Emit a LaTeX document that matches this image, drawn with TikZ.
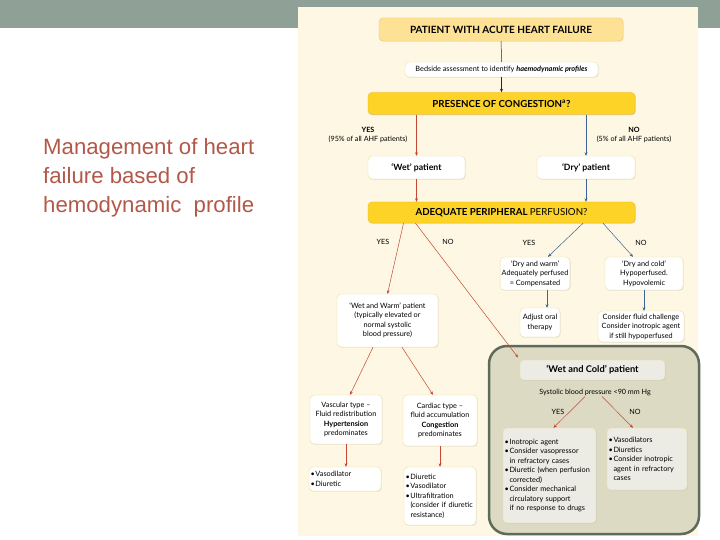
\documentclass[tikz,border=0pt]{standalone}
\usepackage{fontspec}
\setmainfont{Lato}
\newfontfamily\slidefont{Liberation Sans}
\usetikzlibrary{arrows.meta,shadows}

\definecolor{slidebar}{RGB}{143,160,150}
\definecolor{slidered}{RGB}{178,88,72}
\definecolor{chartcream}{RGB}{253,247,228}
\definecolor{palefill}{RGB}{253,226,150}
\definecolor{paleline}{RGB}{240,198,100}
\definecolor{questionfill}{RGB}{252,211,38}
\definecolor{questionline}{RGB}{244,186,30}
\definecolor{boxline}{RGB}{238,224,160}
\definecolor{framefill}{RGB}{221,218,196}
\definecolor{frameline}{RGB}{96,106,90}
\definecolor{greyfill}{RGB}{236,235,228}
\definecolor{arrowred}{RGB}{196,72,52}
\definecolor{arrowblue}{RGB}{60,100,150}

\newcommand{\bulitem}{\makebox[5pt][l]{\textbullet}}
\newcommand{\bulrest}{\hspace*{5pt}}

\tikzset{
  chartbox/.style={draw=boxline, fill=white, rounded corners=4pt, align=center,
    inner sep=1.5pt, font=\fontsize{7.3}{9.5}\selectfont,
    drop shadow={shadow xshift=0.7pt, shadow yshift=-0.7pt, opacity=0.18}},
  questionbox/.style={chartbox, draw=questionline, fill=questionfill,
    font=\bfseries\fontsize{9.7}{11}\selectfont, minimum width=267pt, minimum height=22pt},
  greybox/.style={chartbox, fill=greyfill},
  branchtext/.style={align=center, inner sep=0pt, font=\fontsize{7.2}{9}\selectfont},
  redline/.style={draw=arrowred, line width=0.5pt, -{Stealth[length=3.5pt,width=3pt]}},
  blueline/.style={draw=arrowblue, line width=0.5pt, -{Stealth[length=3.5pt,width=3pt]}},
  blackline/.style={draw=black!85, line width=0.5pt}
}

\begin{document}
\begin{tikzpicture}[x=1pt,y=-1pt]

      \useasboundingbox (0,0) rectangle (720,540);
      \fill[slidebar] (0,0) rectangle (720,28);
      \fill[chartcream] (298,7) rectangle (698,536);

      \node[anchor=north west, align=left, inner sep=0pt, text=slidered,
        font=\slidefont\fontsize{22.2}{29}\selectfont] (slidetitle) at (43,138)
        {Management of heart\\failure based of\\hemodynamic\ \ profile};

      \node[draw=frameline, fill=framefill, line width=2.5pt, rounded corners=18pt,
        minimum width=210pt, minimum height=188pt] (wetcold) at (594,440) {};

      \begin{scope}[every node/.style={chartbox}]
        \node[draw=paleline, fill=palefill, font=\bfseries\fontsize{10}{11}\selectfont,
          minimum width=244pt, minimum height=23pt] (patient) at (501,29.5)
          {PATIENT WITH ACUTE HEART FAILURE};
        \node[minimum width=193pt, minimum height=15pt] (bedside) at (501.5,69.5)
          {Bedside assessment to identify \textbf{\itshape haemodynamic profiles}};
        \node[questionbox] (congestion) at (501.5,103.5)
          {PRESENCE OF CONGESTION\textsuperscript{a}?};
        \node[font=\bfseries\fontsize{8.7}{10}\selectfont, minimum width=97pt,
          minimum height=23pt] (wet) at (416.5,167.5) {‘Wet’ patient};
        \node[font=\bfseries\fontsize{8.7}{10}\selectfont, minimum width=98pt,
          minimum height=23pt] (dry) at (586,167.5) {‘Dry’ patient};
        \node[questionbox, minimum height=21pt] (perfusion) at (501.5,212.5)
          {ADEQUATE PERIPHERAL {\mdseries PERFUSION?}};
        \node[minimum width=101pt, minimum height=53pt] (wetwarm) at (387.5,320.5)
          {‘Wet and Warm’ patient\\(typically elevated or\\normal systolic\\blood pressure)};
        \node[minimum width=62pt, minimum height=33pt] (drywarm) at (535,273.5)
          {‘Dry and warm’\\Adequately perfused\\= Compensated};
        \node[minimum width=78pt, minimum height=33pt] (drycold) at (644,273.5)
          {‘Dry and cold’\\Hypoperfused.\\Hypovolemic};
        \node[minimum width=40pt, minimum height=29pt] (adjust) at (540,322.5)
          {Adjust oral\\therapy};
        \node[minimum width=86pt, minimum height=31pt] (fluid) at (641,326.5)
          {Consider fluid challenge\\Consider inotropic agent\\if still hypoperfused};
        \node[minimum width=72pt, minimum height=49pt] (vascular) at (346,419.5)
          {Vascular type –\\Fluid redistribution\\\textbf{Hypertension}\\predominates};
        \node[minimum width=74pt, minimum height=51pt] (cardiac) at (440,420.5)
          {Cardiac type –\\fluid accumulation\\\textbf{Congestion}\\predominates};
        \node[align=left, text width=69pt, minimum height=24pt] (vasotx) at (345,479)
          {\bulitem Vasodilator\\\bulitem Diuretic};
        \node[align=left, text width=69pt, minimum height=58pt] (diurtx) at (440,496)
          {\bulitem Diuretic\\\bulitem Vasodilator\\\bulitem Ultrafiltration\\\bulrest(consider if diuretic\\\bulrest resistance)};
      \end{scope}

      \begin{scope}[every node/.style={greybox}]
        \node[font=\bfseries\fontsize{9.3}{10.5}\selectfont, minimum width=145pt,
          minimum height=20pt] (wcpatient) at (592.5,370) {‘Wet and Cold’ patient};
        \node[align=left, text width=90pt, minimum height=95pt] (inotrope) at (549.5,475.5)
          {\bulitem Inotropic agent\\\bulitem Consider vasopressor\\\bulrest in refractory cases\\\bulitem Diuretic (when perfusion\\\bulrest corrected)\\\bulitem Consider mechanical\\\bulrest circulatory support\\\bulrest if no response to drugs};
        \node[align=left, text width=77pt, minimum height=62pt] (vasodil) at (647,459)
          {\bulitem Vasodilators\\\bulitem Diuretics\\\bulitem Consider inotropic\\\bulrest agent in refractory\\\bulrest cases};
      \end{scope}

      \begin{scope}[every node/.style={branchtext}]
        \node (yescongestion) at (368,134.5) {\textbf{YES}\\(95\% of all AHF patients)};
        \node (nocongestion) at (634,134.5) {\textbf{NO}\\(5\% of all AHF patients)};
        \node (yeswet) at (383,242) {YES};
        \node (nowet) at (448,242) {NO};
        \node (yesdry) at (529,243) {YES};
        \node (nodry) at (641,243) {NO};
        \node (sbp) at (595,393) {Systolic blood pressure <90 mm Hg};
        \node (yessbp) at (558,412) {YES};
        \node (nosbp) at (635,412) {NO};
      \end{scope}

      \path (patient) edge[blackline] (bedside);
      \path (bedside) edge[blackline, -{Stealth[length=3.5pt,width=3pt]}] (congestion);
      \path (wet.north |- congestion.south) edge[redline] (wet.north);
      \path (dry.north |- congestion.south) edge[blueline] (dry.north);
      \path (wet.south) edge[redline] (wet.south |- perfusion.north);
      \path (dry.south) edge[blueline] (dry.south |- perfusion.north);
      \path ([xshift=-98pt]perfusion.south) edge[redline] (wetwarm.north);
      \path ([xshift=-86pt]perfusion.south) edge[redline, shorten >=3pt] (wcpatient.north west);
      \path ([xshift=81.5pt]perfusion.south) edge[blueline] ([xshift=13pt]drywarm.north);
      \path ([xshift=101.5pt]perfusion.south) edge[blueline] ([xshift=-11pt]drycold.north);
      \path ([xshift=12pt]drywarm.south) edge[blueline] ([xshift=7pt]adjust.north);
      \path (drycold.south) edge[blueline] ([xshift=3pt]fluid.north);
      \path ([xshift=-14.5pt]wetwarm.south) edge[redline] ([xshift=4pt]vascular.north);
      \path ([xshift=14.5pt]wetwarm.south) edge[redline] ([xshift=-7pt]cardiac.north);
      \path (vascular.south) edge[redline] (vascular.south |- vasotx.north);
      \path (cardiac.south) edge[redline] (diurtx.north);
      \path ([xshift=-10pt]sbp.south) edge[redline] ([xshift=4pt]inotrope.north);
      \path ([xshift=7pt]sbp.south) edge[redline] ([xshift=-14pt]vasodil.north);

    \end{tikzpicture}
\end{document}
